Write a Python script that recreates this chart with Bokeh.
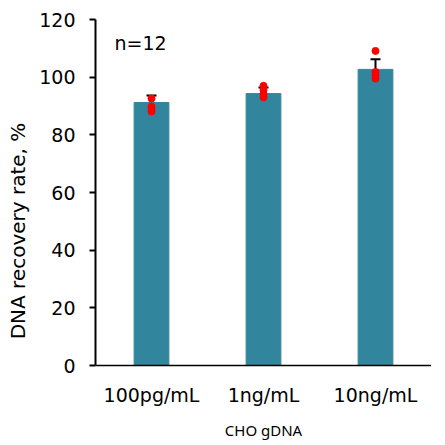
from bokeh.plotting import figure
from bokeh.models import ColumnDataSource, FactorRange, Range1d, Whisker, Label, Span
from bokeh.core.properties import value
from bokeh.embed import file_html
from bokeh.resources import INLINE

# data
groups = ["100pg/mL", "1ng/mL", "10ng/mL"]
means = [91.2, 94.3, 102.7]
err_upper = [93.6, 96.4, 106.2]
y_ticks = [0, 20, 40, 60, 80, 100, 120]

# individual replicates (overlapping points)
pt_groups = ["100pg/mL"] * 4 + ["1ng/mL"] * 4 + ["10ng/mL"] * 4
pt_values = [92.6, 89.8, 88.9, 88.1,
             97.0, 95.5, 94.1, 93.0,
             109.1, 101.8, 100.7, 99.5]

bars = ColumnDataSource(data=dict(x=groups, top=means, upper=err_upper))
pts = ColumnDataSource(data=dict(x=pt_groups, y=pt_values))

# range goes below zero so the category labels and x title can live in the frame
y_bottom = -26.7
p = figure(x_range=FactorRange(*groups), y_range=Range1d(y_bottom, 120),
           width=431, height=442, output_backend="svg", toolbar_location=None,
           min_border_left=95, min_border_right=0, min_border_top=19, min_border_bottom=0)

p.vbar(x="x", top="top", width=0.31, source=bars, color="#31859C")

err = Whisker(base="x", lower="top", upper="upper", source=bars,
              line_color="black", line_width=2, lower_head=None)
err.upper_head.size = 10
err.upper_head.line_width = 2
err.upper_head.line_color = "black"
p.add_layout(err)

p.scatter("x", "y", source=pts, size=7, color="red")

# x axis line at zero
p.add_layout(Span(location=0, dimension="width", line_color="black", line_width=1.5))

# category labels under the axis
lab_y = -10.1
p.text(x=groups, y=[lab_y] * len(groups), text=groups, text_font=value("DejaVu Sans"),
       text_font_size="19px", text_color="black", text_align="center", text_baseline="middle")

p.add_layout(Label(x=1.5, y=-22.2, text="CHO gDNA", text_font="Noto Sans",
                   text_font_size="15px", text_color="black",
                   text_align="center", text_baseline="middle"))

p.add_layout(Label(x=0.17, y=107.9, text="n=12", text_font="DejaVu Sans",
                   text_font_size="19px", text_color="black"))

p.xgrid.visible = False
p.ygrid.visible = False
p.outline_line_color = None
p.xaxis.visible = False

p.yaxis.bounds = (0, 120)
p.yaxis.ticker = y_ticks
p.yaxis.minor_tick_line_color = None
p.yaxis.major_tick_in = 0
p.yaxis.major_tick_out = 6
p.yaxis.axis_line_width = 2
p.yaxis.major_tick_line_width = 2
p.yaxis.axis_line_color = "black"
p.yaxis.axis_label = "DNA recovery rate, %"
p.yaxis.axis_label_text_font = "DejaVu Sans"
p.yaxis.axis_label_text_font_style = "normal"
p.yaxis.axis_label_text_font_size = "20px"
p.yaxis.axis_label_text_color = "black"
p.yaxis.axis_label_standoff = 6
p.yaxis.major_label_text_font = "DejaVu Sans"
p.yaxis.major_label_text_font_size = "19px"
p.yaxis.major_label_text_color = "black"
p.yaxis.major_label_standoff = 14

open("out.html", "w").write(file_html(p, INLINE))
